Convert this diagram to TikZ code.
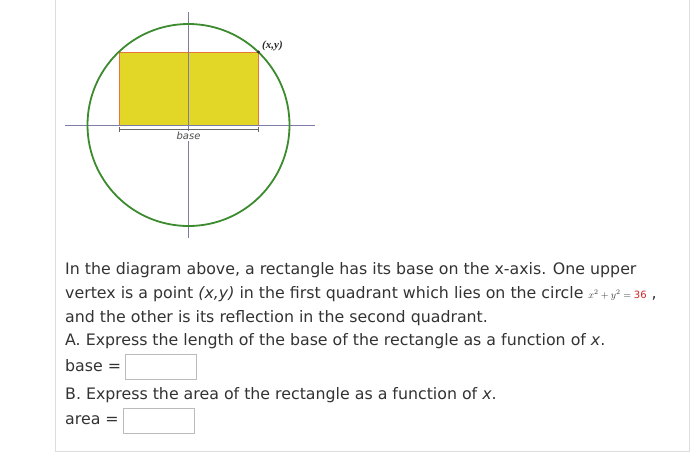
\documentclass[tikz,border=0pt]{standalone}
\usepackage{fontspec}
\setmainfont{DejaVu Sans}
\newfontfamily\serifit{Liberation Serif}
\usetikzlibrary{calc}
\definecolor{txt}{HTML}{333333}
\definecolor{axiscol}{HTML}{7C7CA6}
\definecolor{circcol}{HTML}{3C8B2E}
\definecolor{rectfill}{HTML}{E2D627}
\definecolor{rectline}{HTML}{E8763A}
\definecolor{panel}{HTML}{DDDDDD}
\definecolor{boxline}{HTML}{BBBBBB}
\definecolor{numred}{HTML}{D0262A}
\tikzset{
  textline/.style={anchor=west, inner sep=0pt, text=txt, font=\fontsize{15.8}{18}\selectfont},
  answerbox/.style={draw=boxline, line width=0.8pt, minimum width=71pt, minimum height=25pt, inner sep=0pt},
  axisline/.style={draw=axiscol, line width=0.9pt},
}
\begin{document}
\begin{tikzpicture}[x=1pt,y=-1pt]
\useasboundingbox (0,0) rectangle (700,464);
\fill[white] (0,0) rectangle (700,464);
% panel
\draw[panel, line width=0.8pt] (55,-2) -- (55,451) -- (689,451) -- (689,-2);
% geometry
\coordinate (O) at (188.5,125);
\coordinate (L) at (119.5,125);
\coordinate (V) at (258.5,52);
\coordinate (VL) at (119.5,52);
\coordinate (R) at (258.5,125);
\filldraw[fill=rectfill, draw=rectline, line width=0.8pt] (L) rectangle (V);
\draw[axisline] (65,125) -- (315,125);
\draw[axisline] (188.5,12) -- (188.5,238);
\draw[circcol, line width=1.8pt] (O) circle (101);
% base dimension bar
\coordinate (BL) at (119.5,129);
\coordinate (BR) at (258.5,129);
\draw[gray!80!black, line width=0.7pt] (BL) -- (BR);
\draw[gray!80!black, line width=0.7pt] ($(BL)+(0,-2.5)$) -- ($(BL)+(0,2.5)$);
\draw[gray!80!black, line width=0.7pt] ($(BR)+(0,-2.5)$) -- ($(BR)+(0,2.5)$);
\node[fill=white, text=gray!60!black, font=\fontsize{10}{11}\selectfont\itshape, inner sep=1pt] (baselbl) at (188.5,136) {base};
\fill[black!80] (V) circle (1.6);
\node[anchor=west, inner sep=0pt, text=black!85, font=\fontsize{11}{12}\selectfont\serifit\bfseries\itshape] (xylbl) at (262,46) {(x,y)};
% text
\node[textline] (l1) at (65,270) {In the diagram above, a rectangle has its base on the x-axis. One upper};
\node[textline] (l2) at (65,294) {vertex is a point \textit{(x,y)} in the first quadrant which lies on the circle {\fontsize{10}{10}\selectfont$x^2+y^2={}$\textcolor{numred}{36}}~,};
\node[textline] (l3) at (65,318) {and the other is its reflection in the second quadrant.};
\node[textline] (l4) at (65,341) {A. Express the length of the base of the rectangle as a function of \textit{x}.};
\node[textline] (l5) at (65,366) {base =};
\node[answerbox] (box1) at (161.2,366.8) {};
\node[textline] (l6) at (65,395) {B. Express the area of the rectangle as a function of \textit{x}.};
\node[textline] (l7) at (65,420) {area =};
\node[answerbox] (box2) at (158.8,420.8) {};
\end{tikzpicture}
\end{document}
